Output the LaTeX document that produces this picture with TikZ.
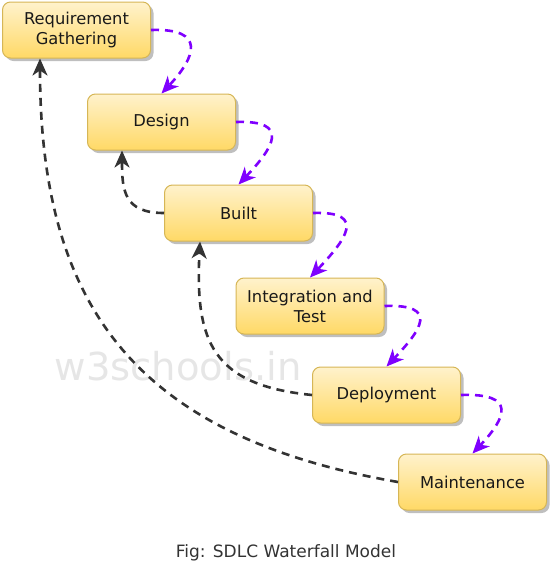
\documentclass[tikz,border=0pt]{standalone}
\usepackage{fontspec}
\setmainfont{DejaVu Sans}
\usetikzlibrary{arrows.meta,shadows}
\definecolor{edgecolor}{RGB}{214,182,86}
\definecolor{topcolor}{RGB}{255,242,204}
\definecolor{botcolor}{RGB}{255,217,102}
\definecolor{flowcolor}{RGB}{127,0,255}
\definecolor{backcolor}{RGB}{51,51,51}
\definecolor{markcolor}{RGB}{230,230,230}

\begin{document}
\begin{tikzpicture}[%
    x=1pt, y=-1pt,              % Pixel grid, y going down
    >={Stealth[length=17pt 0,width=15pt 0,inset=5pt 0]},
    font=\fontsize{16.3}{20}\selectfont,
    ]
\tikzset{
  phase/.style={draw=edgecolor, line width=1pt, rounded corners=8pt,
    minimum width=148pt, minimum height=56pt, align=center,
    top color=topcolor, bottom color=botcolor, text=black!90,
    general shadow={fill=black!25, shadow xshift=3pt, shadow yshift=-3pt}},
  next/.style={->, flowcolor, line width=2.6pt, dash pattern=on 8pt off 6pt},
  back/.style={->, backcolor, line width=2.6pt, dash pattern=on 8pt off 6pt},
}
\useasboundingbox (0,0) rectangle (550,563);

\node [markcolor, font=\fontsize{38.5}{44}\selectfont] (mark) at (178,366) {w3schools.in};

\node [phase] (req) at (76.5,30) {Requirement\\Gathering};
\node [phase] (des) at (161.5,122) {Design};
\node [phase] (blt) at (238.5,213) {Built};
\node [phase] (itg) at (310,306) {Integration and\\Test};
\node [phase] (dep) at (386.5,395) {Deployment};
\node [phase] (mnt) at (472.5,482) {Maintenance};

\node [text=backcolor, font=\fontsize{17}{20}\selectfont] (cap) at (286,553) {Fig: SDLC Waterfall Model};

%connect
\draw [next] (req.east) .. controls +(56,-2) and +(34,-36) .. (des.north);
\draw [next] (des.east) .. controls +(56,-2) and +(34,-36) .. (blt.north);
\draw [next] (blt.east) .. controls +(56,-2) and +(34,-36) .. (itg.north);
\draw [next] (itg.east) .. controls +(56,-2) and +(34,-36) .. (dep.north);
\draw [next] (dep.east) .. controls +(56,-2) and +(34,-36) .. (mnt.north);

\draw [back] (blt.west) .. controls +(-40,0) and +(0,40) .. ([xshift=35pt]des.south west);
\draw [back] (dep.west) .. controls +(-100,-10) and +(-5,100) .. ([xshift=36pt]blt.south west);
\draw [back] (mnt.west) .. controls +(-260,-45) and +(0,250) .. ([xshift=38pt]req.south west);

\end{tikzpicture}
\end{document}
